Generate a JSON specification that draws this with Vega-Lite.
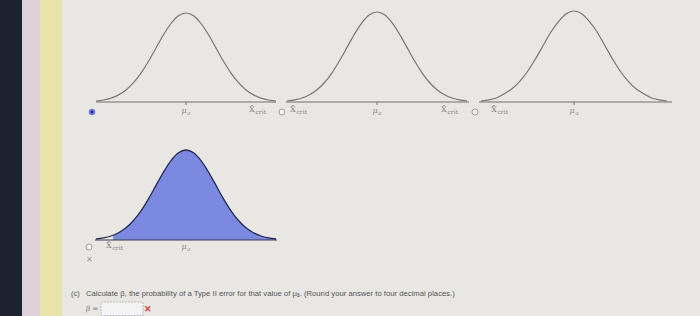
{
  "$schema": "https://vega.github.io/schema/vega-lite/v6.json",
  "width": 700,
  "height": 316,
  "autosize": {"type": "fit", "contains": "padding"},
  "padding": 0,
  "background": "#e8e7e4",
  "config": {"view": {"stroke": null}},
  "datasets": {
    "strips": [
      {"x": 0, "x2": 22, "y": 0, "y2": 316, "kind": "dark"},
      {"x": 22, "x2": 40, "y": 0, "y2": 316, "kind": "pink"},
      {"x": 40, "x2": 62, "y": 0, "y2": 316, "kind": "yellow"}
    ],
    "grayCurves": [
      {"c": 1, "x": 96, "y": 101.0}, {"c": 1, "x": 103.5, "y": 100.0}, {"c": 1, "x": 111, "y": 98.1}, {"c": 1, "x": 118.5, "y": 94.9}, {"c": 1, "x": 126, "y": 90.0}, {"c": 1, "x": 133.5, "y": 82.7}, {"c": 1, "x": 141, "y": 73.1}, {"c": 1, "x": 148.5, "y": 61.3}, {"c": 1, "x": 156, "y": 48.0}, {"c": 1, "x": 163.5, "y": 34.8}, {"c": 1, "x": 171, "y": 23.5}, {"c": 1, "x": 178.5, "y": 15.7}, {"c": 1, "x": 186, "y": 13}, {"c": 1, "x": 193.5, "y": 15.7}, {"c": 1, "x": 201, "y": 23.5}, {"c": 1, "x": 208.5, "y": 34.8}, {"c": 1, "x": 216, "y": 48.0}, {"c": 1, "x": 223.5, "y": 61.3}, {"c": 1, "x": 231, "y": 73.1}, {"c": 1, "x": 238.5, "y": 82.7}, {"c": 1, "x": 246, "y": 90.0}, {"c": 1, "x": 253.5, "y": 94.9}, {"c": 1, "x": 261, "y": 98.1}, {"c": 1, "x": 268.5, "y": 100.0}, {"c": 1, "x": 276, "y": 101.0},
      {"c": 2, "x": 287, "y": 101.0}, {"c": 2, "x": 294.5, "y": 99.9}, {"c": 2, "x": 302, "y": 98.0}, {"c": 2, "x": 309.5, "y": 94.8}, {"c": 2, "x": 317, "y": 89.8}, {"c": 2, "x": 324.5, "y": 82.5}, {"c": 2, "x": 332, "y": 72.8}, {"c": 2, "x": 339.5, "y": 60.8}, {"c": 2, "x": 347, "y": 47.4}, {"c": 2, "x": 354.5, "y": 34.1}, {"c": 2, "x": 362, "y": 22.6}, {"c": 2, "x": 369.5, "y": 14.8}, {"c": 2, "x": 377, "y": 12}, {"c": 2, "x": 384.5, "y": 14.8}, {"c": 2, "x": 392, "y": 22.6}, {"c": 2, "x": 399.5, "y": 34.1}, {"c": 2, "x": 407, "y": 47.4}, {"c": 2, "x": 414.5, "y": 60.8}, {"c": 2, "x": 422, "y": 72.8}, {"c": 2, "x": 429.5, "y": 82.5}, {"c": 2, "x": 437, "y": 89.8}, {"c": 2, "x": 444.5, "y": 94.8}, {"c": 2, "x": 452, "y": 98.0}, {"c": 2, "x": 459.5, "y": 99.9}, {"c": 2, "x": 467, "y": 101.0},
      {"c": 3, "x": 481, "y": 101.0}, {"c": 3, "x": 488.75, "y": 99.9}, {"c": 3, "x": 496.5, "y": 98.0}, {"c": 3, "x": 504.25, "y": 93.8}, {"c": 3, "x": 512, "y": 88.7}, {"c": 3, "x": 519.75, "y": 81.3}, {"c": 3, "x": 527.5, "y": 71.5}, {"c": 3, "x": 535.25, "y": 59.3}, {"c": 3, "x": 543, "y": 45.8}, {"c": 3, "x": 550.75, "y": 32.3}, {"c": 3, "x": 558.5, "y": 21.7}, {"c": 3, "x": 566.25, "y": 13.8}, {"c": 3, "x": 574, "y": 11}, {"c": 3, "x": 581.75, "y": 13.8}, {"c": 3, "x": 589.5, "y": 21.7}, {"c": 3, "x": 597.25, "y": 32.3}, {"c": 3, "x": 605, "y": 45.8}, {"c": 3, "x": 612.75, "y": 59.3}, {"c": 3, "x": 620.5, "y": 71.5}, {"c": 3, "x": 628.25, "y": 81.3}, {"c": 3, "x": 636, "y": 88.7}, {"c": 3, "x": 643.75, "y": 93.8}, {"c": 3, "x": 651.5, "y": 98.0}, {"c": 3, "x": 659.25, "y": 99.9}, {"c": 3, "x": 667, "y": 101.0}
    ],
    "blueCurve": [
      {"x": 96, "y": 239.0}, {"x": 103.5, "y": 237.9}, {"x": 111, "y": 236.0}, {"x": 118.5, "y": 232.8}, {"x": 126, "y": 227.8}, {"x": 133.5, "y": 220.5}, {"x": 141, "y": 210.8}, {"x": 148.5, "y": 198.8}, {"x": 156, "y": 185.4}, {"x": 163.5, "y": 172.1}, {"x": 171, "y": 160.6}, {"x": 178.5, "y": 152.8}, {"x": 186, "y": 150}, {"x": 193.5, "y": 152.8}, {"x": 201, "y": 160.6}, {"x": 208.5, "y": 172.1}, {"x": 216, "y": 185.4}, {"x": 223.5, "y": 198.8}, {"x": 231, "y": 210.8}, {"x": 238.5, "y": 220.5}, {"x": 246, "y": 227.8}, {"x": 253.5, "y": 232.8}, {"x": 261, "y": 236.0}, {"x": 268.5, "y": 237.9}, {"x": 276, "y": 239.0}
    ],
    "blueArea": [
      {"x": 113, "y": 235.3, "y0": 240}, {"x": 118.5, "y": 232.8, "y0": 240}, {"x": 126, "y": 227.8, "y0": 240}, {"x": 133.5, "y": 220.5, "y0": 240}, {"x": 141, "y": 210.8, "y0": 240}, {"x": 148.5, "y": 198.8, "y0": 240}, {"x": 156, "y": 185.4, "y0": 240}, {"x": 163.5, "y": 172.1, "y0": 240}, {"x": 171, "y": 160.6, "y0": 240}, {"x": 178.5, "y": 152.8, "y0": 240}, {"x": 186, "y": 150, "y0": 240}, {"x": 193.5, "y": 152.8, "y0": 240}, {"x": 201, "y": 160.6, "y0": 240}, {"x": 208.5, "y": 172.1, "y0": 240}, {"x": 216, "y": 185.4, "y0": 240}, {"x": 223.5, "y": 198.8, "y0": 240}, {"x": 231, "y": 210.8, "y0": 240}, {"x": 238.5, "y": 220.5, "y0": 240}, {"x": 246, "y": 227.8, "y0": 240}, {"x": 253.5, "y": 232.8, "y0": 240}, {"x": 261, "y": 236.0, "y0": 240}, {"x": 268.5, "y": 237.9, "y0": 240}, {"x": 276, "y": 239.0, "y0": 240}
    ],
    "grayBase": [
      {"x": 96, "x2": 276, "y": 102},
      {"x": 286, "x2": 469, "y": 102},
      {"x": 479, "x2": 672, "y": 102}
    ],
    "ticks": [
      {"x": 186, "y": 102, "y2": 105},
      {"x": 377, "y": 102, "y2": 105},
      {"x": 574, "y": 102, "y2": 105}
    ],
    "mu": [
      {"x": 186, "y": 111},
      {"x": 377, "y": 111},
      {"x": 574, "y": 111},
      {"x": 186, "y": 247}
    ],
    "xcrit": [
      {"x": 257, "y": 110},
      {"x": 298, "y": 110},
      {"x": 449, "y": 110},
      {"x": 499, "y": 110},
      {"x": 114, "y": 246}
    ],
    "radios": [
      {"x": 282, "y": 112},
      {"x": 475, "y": 112},
      {"x": 89, "y": 247}
    ],
    "selected": [{"x": 92, "y": 112}],
    "box": [{"x": 101, "x2": 143, "y": 302, "y2": 315.5}]
  },
  "encoding": {
    "x": {"field": "x", "type": "quantitative", "scale": {"domain": [0, 700], "nice": false, "zero": false}, "axis": null},
    "y": {"field": "y", "type": "quantitative", "scale": {"domain": [0, 316], "nice": false, "zero": false, "reverse": true}, "axis": null}
  },
  "layer": [
    {
      "data": {"name": "strips"},
      "mark": {"type": "rect"},
      "encoding": {
        "x2": {"field": "x2"},
        "y2": {"field": "y2"},
        "color": {"field": "kind", "type": "nominal", "scale": {"domain": ["dark", "pink", "yellow"], "range": ["#1d2231", "#ddd0d9", "#e7e3a9"]}, "legend": null}
      }
    },
    {
      "data": {"name": "grayBase"},
      "mark": {"type": "rule", "color": "#707070", "strokeWidth": 1.2},
      "encoding": {"x2": {"field": "x2"}}
    },
    {
      "data": {"name": "ticks"},
      "mark": {"type": "rule", "color": "#707070", "strokeWidth": 1},
      "encoding": {"y2": {"field": "y2"}}
    },
    {
      "data": {"name": "grayCurves"},
      "mark": {"type": "line", "color": "#767676", "strokeWidth": 1.2, "interpolate": "monotone"},
      "encoding": {"detail": {"field": "c", "type": "nominal"}}
    },
    {
      "data": {"name": "blueArea"},
      "mark": {"type": "area", "color": "#7b8ae0", "opacity": 1, "interpolate": "monotone"},
      "encoding": {"y2": {"field": "y0"}}
    },
    {
      "data": {"name": "blueCurve"},
      "mark": {"type": "line", "color": "#262a52", "strokeWidth": 1.3, "interpolate": "monotone"},
      "encoding": {}
    },
    {
      "data": {"values": [{"x": 95, "x2": 277, "y": 240}]},
      "mark": {"type": "rule", "color": "#3a3a4a", "strokeWidth": 1.2},
      "encoding": {"x2": {"field": "x2"}}
    },
    {
      "data": {"name": "mu"},
      "mark": {"type": "text", "text": "μ", "font": "DejaVu Serif", "fontStyle": "italic", "fontSize": 8, "color": "#8a8a8a", "baseline": "middle", "align": "center", "dx": -2}
    },
    {
      "data": {"name": "mu"},
      "mark": {"type": "text", "text": "a", "font": "DejaVu Serif", "fontStyle": "italic", "fontSize": 5.5, "color": "#8a8a8a", "baseline": "middle", "align": "center", "dx": 3, "dy": 2}
    },
    {
      "data": {"name": "xcrit"},
      "mark": {"type": "text", "text": "X̄", "font": "DejaVu Serif", "fontSize": 7.5, "color": "#7a7a7a", "baseline": "middle", "align": "center", "dx": -5}
    },
    {
      "data": {"name": "xcrit"},
      "mark": {"type": "text", "text": "crit", "font": "DejaVu Serif", "fontSize": 6, "color": "#7a7a7a", "baseline": "middle", "align": "left", "dx": -1.5, "dy": 1.5}
    },
    {
      "data": {"name": "radios"},
      "mark": {"type": "point", "shape": "circle", "size": 36, "filled": false, "fill": "#f4f4f4", "stroke": "#8c8c8c", "strokeWidth": 0.8, "opacity": 1}
    },
    {
      "data": {"name": "selected"},
      "mark": {"type": "point", "shape": "circle", "size": 44, "filled": true, "color": "#6f80ea", "opacity": 1}
    },
    {
      "data": {"name": "selected"},
      "mark": {"type": "point", "shape": "circle", "size": 8, "filled": true, "color": "#1f2a70", "opacity": 1}
    },
    {
      "data": {"values": [{"x": 89, "y": 260, "t": "✕"}]},
      "mark": {"type": "text", "fontSize": 8, "color": "#9a9a9a", "baseline": "middle", "align": "center"},
      "encoding": {"text": {"field": "t"}}
    },
    {
      "data": {"values": [{"x": 71, "y": 294, "t": "(c)"}]},
      "mark": {"type": "text", "font": "Liberation Sans", "fontSize": 7.5, "color": "#555555", "baseline": "middle", "align": "left"},
      "encoding": {"text": {"field": "t"}}
    },
    {
      "data": {"values": [{"x": 86, "y": 294, "t": "Calculate β, the probability of a Type II error for that value of μₐ. (Round your answer to four decimal places.)"}]},
      "mark": {"type": "text", "font": "Liberation Sans", "fontSize": 7.7, "color": "#555555", "baseline": "middle", "align": "left"},
      "encoding": {"text": {"field": "t"}}
    },
    {
      "data": {"values": [{"x": 86, "y": 309, "t": "β ="}]},
      "mark": {"type": "text", "font": "DejaVu Serif", "fontStyle": "italic", "fontSize": 7, "color": "#777777", "baseline": "middle", "align": "left"},
      "encoding": {"text": {"field": "t"}}
    },
    {
      "data": {"name": "box"},
      "mark": {"type": "rect", "fill": "#f4f4f4", "stroke": "#b0b0c0", "strokeWidth": 0.8, "strokeDash": [2, 1]},
      "encoding": {"x2": {"field": "x2"}, "y2": {"field": "y2"}}
    },
    {
      "data": {"values": [{"x": 148, "y": 309, "t": "✕"}]},
      "mark": {"type": "text", "fontSize": 9, "fontWeight": "bold", "color": "#e0403a", "baseline": "middle", "align": "center"},
      "encoding": {"text": {"field": "t"}}
    }
  ]
}
